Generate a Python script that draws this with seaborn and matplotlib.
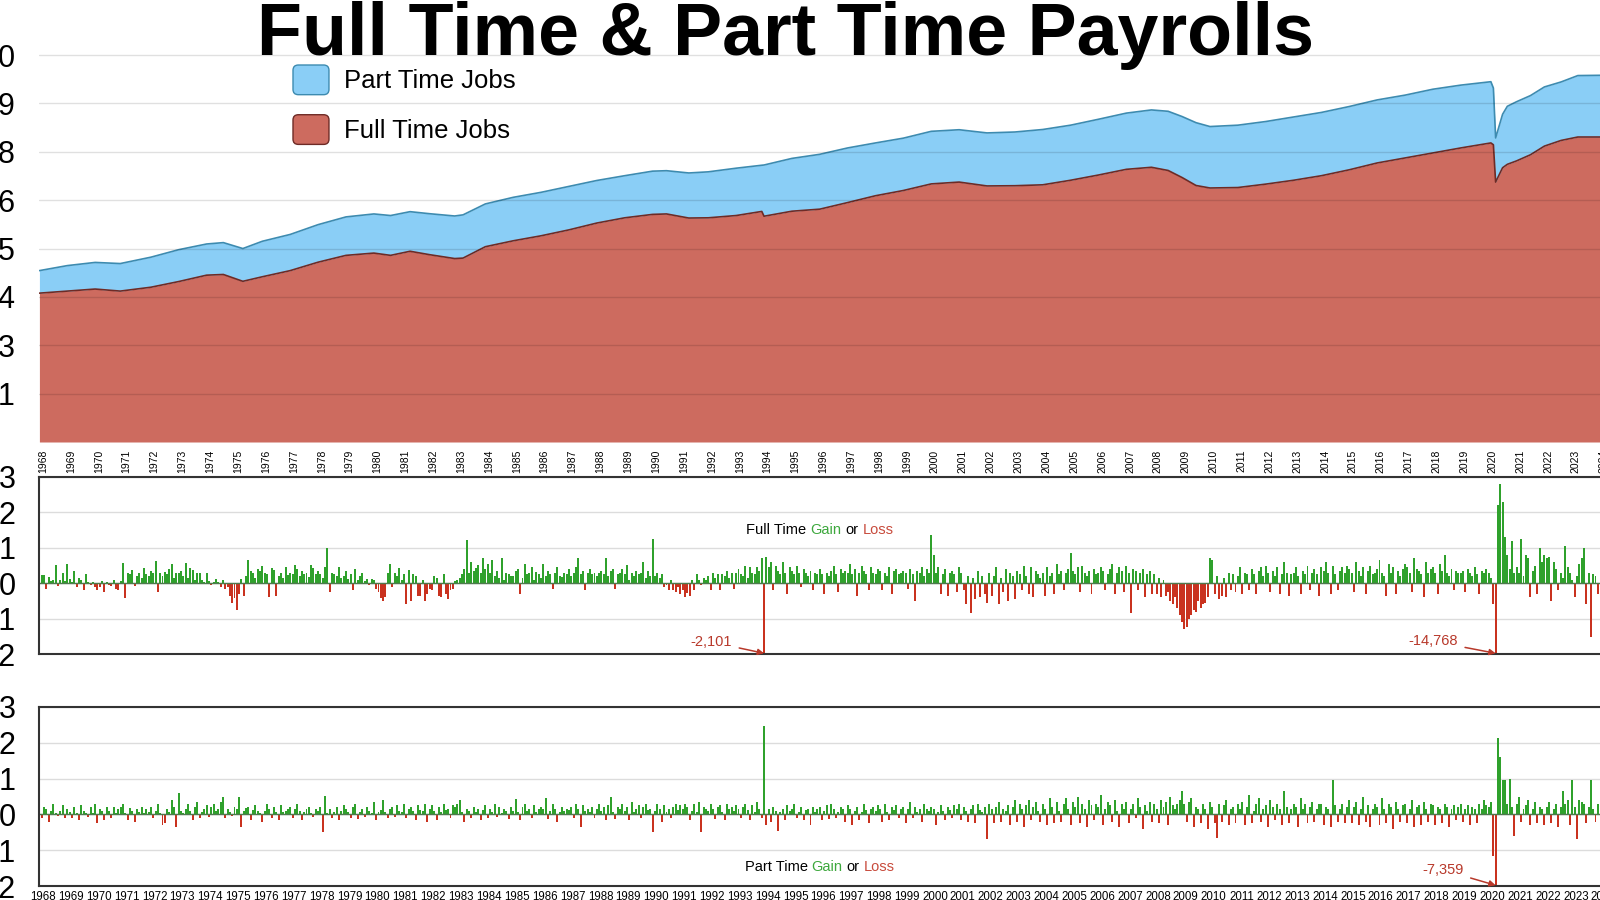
import numpy as np
import pandas as pd
import matplotlib
matplotlib.use("Agg")
import matplotlib.pyplot as plt
import seaborn as sns
from matplotlib.patches import Patch, FancyBboxPatch
from matplotlib.legend_handler import HandlerPatch
from matplotlib.offsetbox import TextArea, HPacker, AnnotationBbox

# employment levels (millions)
level_years = [1968.0, 1969.0, 1970.0, 1970.9, 1972.0, 1973.0, 1974.0, 1974.6, 1975.3, 1976.0,
               1977.0, 1978.0, 1979.0, 1980.0, 1980.6, 1981.3, 1982.0, 1982.9, 1983.2, 1984.0,
               1985.0, 1986.0, 1987.0, 1988.0, 1989.0, 1990.0, 1990.5, 1991.3, 1992.0, 1993.0,
               1993.92, 1994.0, 1995.0, 1996.0, 1997.0, 1998.0, 1999.0, 2000.0, 2001.0, 2002.0,
               2003.0, 2004.0, 2005.0, 2006.0, 2007.0, 2007.9, 2008.5, 2009.0, 2009.5, 2010.0,
               2011.0, 2012.0, 2013.0, 2014.0, 2015.0, 2016.0, 2017.0, 2018.0, 2019.0, 2020.08,
               2020.17, 2020.25, 2020.5, 2020.67, 2021.0, 2021.5, 2022.0, 2022.6, 2023.2, 2024.6]
ft_level = [65.4, 66.3, 67.2, 66.3, 68.0, 70.5, 73.3, 73.6, 70.6, 72.6,
            75.3, 79.0, 82.0, 83.0, 82.0, 83.8, 82.3, 80.6, 80.8, 85.8,
            88.4, 90.6, 93.2, 96.2, 98.5, 100.0, 100.2, 98.4, 98.5, 99.5,
            101.3, 99.2, 101.4, 102.3, 105.2, 108.2, 110.5, 113.4, 114.2, 112.5,
            112.6, 113.0, 115.0, 117.3, 119.8, 120.7, 119.3, 116.2, 112.7, 111.6,
            111.8, 113.3, 115.0, 117.0, 119.6, 122.6, 124.8, 127.0, 129.2, 131.4,
            130.6, 114.2, 120.5, 122.0, 123.5, 126.2, 130.0, 132.5, 134.0, 134.0]
pt_level = [9.9, 11.2, 11.7, 12.1, 13.2, 14.0, 13.7, 14.0, 14.4, 15.6,
            15.9, 16.5, 16.9, 17.2, 17.5, 17.4, 18.0, 18.7, 19.0, 18.8,
            19.1, 19.1, 19.1, 18.7, 18.5, 19.0, 19.0, 19.8, 20.2, 20.8,
            20.3, 22.5, 23.2, 24.1, 24.0, 23.2, 23.0, 23.1, 23.0, 23.3,
            23.6, 24.3, 24.2, 24.5, 24.7, 25.2, 26.0, 26.8, 27.6, 27.0,
            27.4, 27.5, 27.8, 27.8, 27.8, 27.7, 27.6, 28.0, 27.6, 26.9,
            24.9, 19.4, 23.5, 25.5, 26.0, 26.0, 26.0, 25.7, 27.0, 27.2]

# monthly full time change (thousands), Jan..Dec, 1968-2023
ft_change = [
    150, 220, 240, -150, 180, 60, 100, 520, -80, 90, 300, 60,
    550, 120, 30, 350, -120, 150, 80, -200, 250, 40, -60, 20,
    -100, -180, -120, 60, -250, 20, -60, -80, 90, -150, -200, 50,
    560, -420, 300, 250, 380, -80, 200, 300, 150, 420, 250, 200,
    350, 280, 620, -260, 300, 200, 320, 250, 400, 550, 150, 280,
    300, 350, 200, 560, 150, 420, 380, 100, 280, 300, 90, 20,
    280, 50, -60, 40, 120, 20, -120, 90, -150, -100, -350, -560,
    -420, -760, -300, 120, -350, 200, 650, 350, 280, 150, 400, 350,
    500, 300, 250, -400, 420, 380, -350, 200, 300, 150, 450, 220,
    300, 250, 520, 400, 200, 350, 250, 300, 180, 520, 420, 250,
    350, 250, 150, 450, 1000, -250, 300, 250, 200, 450, 150, 200,
    350, 120, 250, -180, 400, 100, 200, 300, 60, 120, -50, 120,
    80, -150, -250, -420, -500, -380, 300, 550, -100, 300, 200, 420,
    100, 250, -600, 380, -500, 250, 200, -350, -350, 100, -500, -300,
    -150, -200, 200, 150, -350, -400, 250, -300, -450, -200, -150, 50,
    100, 150, 250, 400, 1220, 300, 600, 350, 420, 520, 280, 700,
    400, 550, 300, 650, 200, 350, 150, 720, 100, 300, 250, 200,
    200, 350, 400, -300, 150, 550, 250, 300, 450, 100, 320, 250,
    150, 550, 200, 350, 250, -150, 300, 450, 200, 180, 300, 250,
    400, 200, 300, 450, 700, 250, 350, -200, 300, 400, 250, 300,
    200, 300, 350, 250, 700, 200, 350, 400, -150, 250, 300, 400,
    250, 520, 100, 300, 200, 350, 250, 300, 600, 150, 350, 200,
    1250, 200, 300, 150, 250, -100, -50, -200, 100, -180, -250, -120,
    -300, -200, -400, -280, -350, 100, -200, 250, 80, -50, 150, 100,
    200, -200, 300, 150, 250, -180, 250, 200, 350, 150, 280, -150,
    300, 400, 250, 200, 500, 150, 450, 300, 250, 450, 350, 700,
    -2101, 750, 450, 600, -200, 500, 350, 250, 600, 300, -300, 450,
    350, 250, 500, 300, -100, 400, 300, 200, 350, -200, 300, 250,
    400, 250, -300, 300, 200, 350, 500, 250, -250, 400, 300, 350,
    300, 550, 250, 400, -350, 300, 500, 350, 250, -200, 450, 300,
    250, 400, 350, -200, 300, 200, 450, -300, 350, 400, 250, 300,
    350, 300, -150, 400, 250, -500, 350, 300, 450, 200, 400, 300,
    1360, 800, 300, 450, -300, 250, 400, -350, 300, 350, 250, -250,
    450, 300, -200, -600, 200, -850, 150, -450, 350, -400, 200, -300,
    -550, 300, -350, 200, 450, -600, 150, -250, 400, -500, 300, 200,
    -450, 350, 250, -200, 500, 200, -300, 450, -400, 350, 250, 150,
    300, -350, 450, 200, 300, -300, 550, 250, 350, -200, 300, 400,
    850, 350, 250, 450, -250, 500, 300, 200, 350, -300, 400, 250,
    300, 450, 350, -200, 250, 400, 550, -300, 300, 450, 350, -250,
    500, 300, -850, 400, 350, -200, 300, 400, -400, 250, 350, -300,
    250, -300, 150, -400, 100, -350, -250, -500, -600, -400, -700, -900,
    -1100, -1300, -1250, -1000, -900, -750, -800, -500, -700, -600, -550, -400,
    700, 650, -300, 200, -450, -350, 150, -400, 300, -200, 250, -250,
    200, 450, -300, 300, 250, -200, 400, 250, -300, 350, 450, 200,
    500, 300, -250, 350, 200, 450, -300, 250, 600, 300, -350, 250,
    300, 450, 200, -300, 350, 250, 500, -200, 300, 400, 250, -350,
    450, 350, 600, 300, -300, 500, 250, -200, 350, 450, 300, 500,
    400, 300, -250, 600, 350, 200, 450, -300, 350, 500, 250, 300,
    400, 650, 300, 200, -350, 550, 300, 450, -300, 350, 200, 400,
    550, 450, 300, -250, 700, 400, 350, 250, -400, 600, 300, 400,
    450, 300, -300, 550, 350, 800, 300, 200, 400, -200, 350, 300,
    300, 350, -250, 400, 300, 200, 450, 250, -300, 350, 300, 400,
    300, 150, -600, -14768, 2200, 2800, 2300, 1300, 800, 400, 1200, 300,
    450, 300, 1250, 200, 800, 700, -400, 350, 500, -300, 1000, 600,
    800, 700, 750, -500, 600, 400, -200, 300, 150, 1050, 450, 300,
    100, -400, 200, 550, 700, 1000, -600, 300, -1520, 250, 200, -300,
]

# monthly part time change (thousands), Jan..Dec, 1968-2023
pt_change = [
    350, -100, 200, 150, -200, 100, 300, 50, -50, 100, 250, -100,
    150, 80, -100, 200, 50, -150, 250, 100, 50, -80, 200, 30,
    300, -250, 150, 100, -150, 200, 100, -100, 200, 50, 150, 220,
    280, 50, -150, 180, 100, -200, 150, 60, 200, 30, 150, 80,
    200, -100, 100, 300, 50, -300, -250, 150, 80, 400, 200, -350,
    600, 100, 50, 150, 300, 100, -150, 200, 350, -100, 80, 150,
    250, -80, 200, 300, 100, 150, 350, 500, -100, 150, 80, -50,
    200, 150, 500, -350, 100, 180, 200, -150, 120, 250, 100, 30,
    -200, 100, 300, 150, -100, 200, 80, -150, 250, 60, 100, 150,
    200, -100, 150, 300, 100, -150, 80, 150, 200, 30, -80, 150,
    100, 200, -500, 520, 50, 150, -100, 80, 200, -150, 100, 250,
    150, 80, -100, 200, 300, -120, 60, 150, -80, 200, 100, 50,
    350, -150, 60, 120, 400, 80, -100, 150, 200, -80, 250, 100,
    80, 300, -100, 150, 200, 100, -150, 250, 120, 100, 300, -200,
    150, 250, 100, -150, 200, 80, 300, 120, 150, -100, 250, 200,
    300, 400, 60, -200, 150, 100, -100, 200, 80, 150, -150, 120,
    250, -100, 150, 80, 300, -80, 200, 50, 150, 100, -120, 200,
    100, 420, 80, -150, 200, 300, 100, 150, -100, 250, 80, 150,
    200, 150, 450, -120, 100, 300, 150, -200, 80, 200, 100, 150,
    120, 200, -100, 300, 150, -350, 250, 100, 150, 80, 200, -100,
    150, 300, 100, 200, -150, 250, 480, 80, -120, 200, 150, 300,
    100, 200, -150, 350, 80, 150, 250, -100, 200, 300, 120, 150,
    -500, 100, 300, 150, -200, 250, 80, 150, -100, 200, 300, 120,
    250, 150, 300, 200, -150, 100, 280, 80, 350, -500, 200, 150,
    100, 300, 150, -120, 200, 250, 80, -150, 300, 150, 200, 100,
    250, 150, -100, 200, 300, 120, -150, 250, 80, 350, 150, -100,
    2480, -300, 150, -200, 200, 100, -450, 80, 150, -150, 250, 100,
    150, 300, -100, 80, 200, -150, 120, 150, -300, 200, 80, 150,
    200, -150, 100, 250, -120, 300, 150, -100, 80, 200, 150, -200,
    250, 150, -300, 100, 200, -150, 80, 300, 120, -250, 150, 200,
    100, 250, 150, -200, 300, 80, -150, 200, 120, 250, -100, 150,
    200, -250, 150, 350, -100, 200, 80, 150, -200, 300, 150, 100,
    200, 150, -300, 80, 250, 100, -150, 200, 120, -100, 250, 150,
    300, -150, 200, 100, -200, 150, 250, -250, 300, 120, 80, 200,
    -700, 300, 150, -250, 200, 350, -200, 150, 100, 250, -300, 200,
    400, -200, 300, 150, -350, 250, 400, -150, 200, 350, 100, -200,
    300, 150, -300, 450, 200, -250, 350, 100, -200, 300, 450, 150,
    -300, 350, 200, 500, -250, 300, 150, -350, 400, 250, -150, 300,
    200, 550, -300, 150, 350, 250, -200, 400, 100, -350, 300, 150,
    350, -250, 150, 300, -100, 450, 200, -400, 250, 100, 350, -200,
    300, 150, -250, 400, 200, 350, -300, 500, 250, 150, 300, 400,
    650, 300, -200, 350, 450, -350, 200, 150, -250, 300, 150, -400,
    350, 200, -250, -650, 300, -200, 250, 400, -300, 150, 200, -250,
    300, 150, 350, -300, 200, 550, -250, 100, 300, 450, -200, 150,
    250, -350, 400, 200, -150, 300, 150, -300, 650, 200, -250, 150,
    300, 200, -350, 450, 150, 300, -250, 200, 350, -200, 150, 300,
    300, -300, 200, 150, -350, 950, 250, -200, 150, 300, -250, 200,
    400, -250, 200, 350, -300, 150, 500, -200, 250, -350, 150, 300,
    200, -300, 450, 150, -250, 300, 200, -400, 350, 150, -200, 250,
    300, -250, 150, 400, -350, 200, 250, -300, 350, 150, -200, 300,
    250, -300, 200, 150, -250, 300, 200, -350, 150, 250, -150, 200,
    300, -200, 150, 250, -300, 200, 150, -250, 300, 150, 400, 250,
    200, 350, -1150, -7359, 2130, 1600, 950, 950, 300, 1000, 200, -600,
    300, 500, -200, 150, 250, 400, -300, 150, 350, -250, 200, 150,
    -300, 200, 350, -250, 150, 300, -350, 200, 650, 300, 400, -300,
    950, 200, -700, 400, 350, 300, -250, 200, 950, 150, -200, 300,
]

data_years = np.arange(1968, 2024)
tick_years = np.arange(1968, 2025)

BLUE = "#8ACEF6"
BLUE_EDGE = "#3D8BB0"
RED_FILL = "#CD6B5F"
RED_EDGE = "#6E2B26"
GREEN = "#2FA12C"
RED = "#C9321F"
ANN = "#B8392B"

sns.set_theme(style="white")
plt.rcParams["font.family"] = ["Liberation Sans", "DejaVu Sans"]
plt.rcParams["text.color"] = "black"
plt.rcParams["xtick.color"] = "black"
plt.rcParams["ytick.color"] = "black"


def monthly_frame(values):
    df = pd.DataFrame({
        "year": np.repeat(data_years, 12),
        "month": np.tile(np.arange(1, 13), len(data_years)),
        "chg": np.array(values) / 1000.0,
    })
    df["x"] = df["year"] + (df["month"] - 1) / 12.0
    df["sign"] = np.where(df["chg"] >= 0, "gain", "loss")
    return df


ft_df = monthly_frame(ft_change)
pt_df = monthly_frame(pt_change)

fig = plt.figure(figsize=(16, 9), dpi=100)
left = 39 / 1600
width = 1 - left + 0.012
ax_top = fig.add_axes([left, 1 - 442 / 900, width, 407 / 900])
ax_ft = fig.add_axes([left, 1 - 654 / 900, width, 177 / 900])
ax_pt = fig.add_axes([left, 1 - 886 / 900, width, 179 / 900])

px_per_year = 27.87
x0 = 1967.985
x1 = x0 + width * 1600 / px_per_year

# stacked levels
lv = pd.DataFrame({"x": level_years, "ft": ft_level, "pt": pt_level})
lv["total"] = lv["ft"] + lv["pt"]
ax_top.fill_between(lv["x"], 0, lv["ft"], color=RED_FILL, lw=0)
ax_top.fill_between(lv["x"], lv["ft"], lv["total"], color=BLUE, lw=0)
sns.lineplot(data=lv, x="x", y="total", color=BLUE_EDGE, lw=1.2, ax=ax_top)
sns.lineplot(data=lv, x="x", y="ft", color=RED_EDGE, lw=1.2, ax=ax_top)

grid_vals = np.arange(1, 9) * 170 / 8
ax_top.set_yticks(grid_vals)
ax_top.set_yticklabels([str(int(v + 0.5)) for v in grid_vals])
ax_top.set_ylim(0, 407 / 2.276)
ax_top.grid(axis="y", color="black", alpha=0.12, lw=1)
ax_top.set_axisbelow(False)
sns.despine(ax=ax_top, left=True, bottom=True)
ax_top.set_xticks(tick_years + 0.13)
ax_top.set_xticklabels([str(y) for y in tick_years], rotation=90, fontsize=7.5)
ax_top.tick_params(axis="x", length=0, pad=5.5)
ax_top.set_xlabel("")
ax_top.set_ylabel("")

# monthly change panels
for ax, df in [(ax_ft, ft_df), (ax_pt, pt_df)]:
    sns.barplot(data=df, x="x", y="chg", hue="sign", palette={"gain": GREEN, "loss": RED},
                native_scale=True, dodge=False, width=0.85, errorbar=None, legend=False,
                saturation=1, linewidth=0, ax=ax)
    ax.set_ylim(-2, 3)
    ax.set_yticks(np.arange(-2, 4))
    ax.set_yticklabels([str(v) for v in np.arange(-2, 4)])
    ax.grid(axis="y", color="#dcdcdc", lw=1)
    ax.grid(axis="x", visible=False)
    ax.set_axisbelow(True)
    ax.axhline(0, color="#4f7a4f", lw=1, zorder=1)
    for s in ax.spines.values():
        s.set_visible(True)
        s.set_color("#333333")
        s.set_linewidth(1.5)
    ax.set_xlabel("")
    ax.set_ylabel("")

ax_ft.set_xticks([])
ax_pt.set_xticks(tick_years + 0.13)
ax_pt.set_xticklabels([str(y) for y in tick_years], fontsize=8.3)
ax_pt.tick_params(axis="x", length=0, pad=3.5)

for ax in (ax_top, ax_ft, ax_pt):
    ax.set_xlim(x0, x1)
    ax.tick_params(axis="y", length=0, labelsize=22, pad=17)

# annotations for the clipped bars
arrow = dict(arrowstyle="-|>", color=ANN, lw=1.1, mutation_scale=9, shrinkA=3, shrinkB=0)


def point_at(df, year, month):
    row = df[(df["year"] == year) & (df["month"] == month)].iloc[0]
    return row["x"], row["chg"]


bx, bv = point_at(ft_df, 1994, 1)
ax_ft.annotate(f"{int(round(bv * 1000)):,}", xy=(bx, -1.98), xytext=(1992.1, -1.66),
               ha="center", va="center", color=ANN, fontsize=10.5, arrowprops=arrow)
bx, bv = point_at(ft_df, 2020, 4)
ax_ft.annotate(f"{int(round(bv * 1000)):,}", xy=(bx, -1.98), xytext=(2018.0, -1.64),
               ha="center", va="center", color=ANN, fontsize=10.5, arrowprops=arrow)
bx, bv = point_at(pt_df, 2020, 4)
ax_pt.annotate(f"{int(round(bv * 1000)):,}", xy=(bx, -1.98), xytext=(2018.35, -1.55),
               ha="center", va="center", color=ANN, fontsize=10.5, arrowprops=arrow)


def gain_loss(ax, lead, xy):
    parts = [TextArea(lead, textprops=dict(color="black", size=10.5)),
             TextArea("Gain", textprops=dict(color="#3DA83D", size=10.5)),
             TextArea("or", textprops=dict(color="black", size=10.5)),
             TextArea("Loss", textprops=dict(color="#C84B3C", size=10.5))]
    box = HPacker(children=parts, align="baseline", pad=0, sep=3)
    ab = AnnotationBbox(box, xy, xycoords="data", frameon=False, box_alignment=(0.5, 0.5))
    ax.add_artist(ab)


gain_loss(ax_ft, "Full Time", (1996.0, 1.5))
gain_loss(ax_pt, "Part Time", (1996.0, -1.47))


class RoundedHandle(HandlerPatch):
    def create_artists(self, legend, orig_handle, xdescent, ydescent, width, height,
                       fontsize, trans):
        r = 0.18 * height
        p = FancyBboxPatch((-xdescent + r, -ydescent + r), width - 2 * r, height - 2 * r,
                           boxstyle=f"round,pad={r}", facecolor=orig_handle.get_facecolor(),
                           edgecolor=orig_handle.get_edgecolor(), lw=1, transform=trans)
        return [p]


handles = [Patch(facecolor=BLUE, edgecolor=BLUE_EDGE, label="Part Time Jobs"),
           Patch(facecolor=RED_FILL, edgecolor=RED_EDGE, label="Full Time Jobs")]
fig.legend(handles=handles, loc="upper left", bbox_to_anchor=(293 / 1600, 1 - 65 / 900),
           bbox_transform=fig.transFigure, frameon=False, fontsize=18.5,
           handlelength=1.4, handleheight=1.4, handletextpad=0.57, labelspacing=0.78,
           borderpad=0, borderaxespad=0, handler_map={Patch: RoundedHandle()})

fig.text(0.491, 1 - 55 / 900, "Full Time & Part Time Payrolls", ha="center", va="baseline",
         fontsize=53, fontweight="bold", color="black")

fig.savefig("out.png", dpi=100)
